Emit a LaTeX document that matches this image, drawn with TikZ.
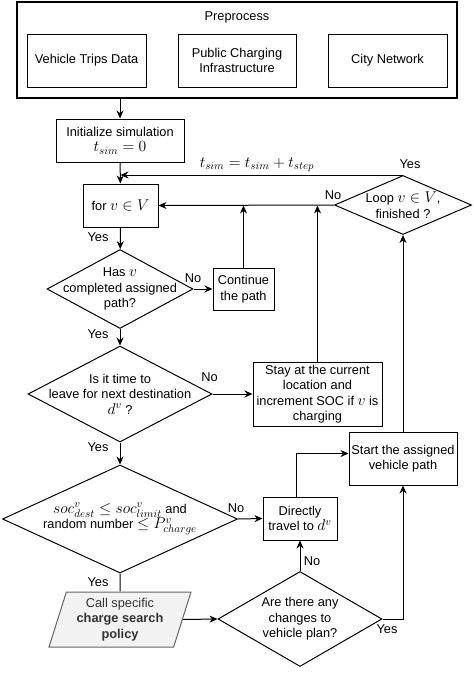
\RequirePackage{fix-cm}
\documentclass[tikz,border=0pt]{standalone}
\usepackage[no-math]{fontspec}
\setmainfont{Liberation Sans}
\usetikzlibrary{shapes.geometric,arrows.meta}
\DeclareMathSizes{12.8}{15.6}{11}{8.5}

\tikzset{
  base/.style={font=\fontsize{12.8}{15.5}\selectfont, align=center, inner sep=0pt},
  box/.style={base, draw, line width=1pt},
  decision/.style={base, draw, diamond, line width=1pt},
  arr/.style={-{Stealth[length=8pt,width=7pt]}, line width=1pt},
  line/.style={line width=1pt}
}

\begin{document}
\begin{tikzpicture}[x=1pt,y=-1pt]
  \useasboundingbox (0,0) rectangle (474,673);

  % preprocessing block
  \node[draw, line width=1.3pt, minimum width=440, minimum height=96, inner sep=0pt] (pre) at (237,50) {};
  \node[base] (pretitle) at (237,17) {Preprocess};
  \node[box, minimum width=119, minimum height=53] (trips) at (86.5,60.5) {Vehicle Trips Data};
  \node[box, minimum width=118, minimum height=53] (charging) at (237,60.5) {Public Charging\\Infrastructure};
  \node[box, minimum width=119, minimum height=53] (city) at (387.5,60.5) {City Network};

  % main loop
  \node[box, minimum width=128, minimum height=43] (init) at (120,140.5) {Initialize simulation\\$t_{sim}=0$};
  \node[box, minimum width=75, minimum height=43] (forv) at (120.5,205.5) {for $v\in V$};
  \node[decision, minimum width=137, minimum height=59, label={[base]center:{Loop $v\in V$,\\finished ?}}] (loop) at (403,205) {};
  \node[decision, minimum width=146, minimum height=79, label={[base]center:{Has $v$\\completed assigned\\path?}}] (done) at (120,289) {};
  \node[box, minimum width=61, minimum height=42] (cont) at (243.5,289) {Continue\\the path};
  \node[decision, minimum width=184, minimum height=96, label={[base]center:{Is it time to\\leave for next destination\\$d^v$ ?}}] (leave) at (120,394) {};
  \node[box, minimum width=129, minimum height=64] (stay) at (317.5,394) {Stay at the current\\location and\\increment SOC if $v$ is\\charging};
  \node[box, minimum width=108, minimum height=53] (start) at (403,458.5) {Start the assigned\\vehicle path};
  \node[decision, minimum width=235, minimum height=108, label={[base]center:{$soc^v_{dest}\le soc^v_{limit}$ and\\random number $\le P^v_{charge}$}}] (soc) at (120,519) {};
  \node[box, minimum width=74, minimum height=43] (direct) at (300,518.5) {Directly\\travel to $d^v$};
  \node[base, draw=black!60, line width=1pt, fill=black!5, text=black!80, trapezium, trapezium left angle=68, trapezium right angle=112, trapezium stretches body, minimum width=142, minimum height=55] (policy) at (120,619.5) {Call specific\\\textbf{charge search}\\\textbf{policy}};
  \node[decision, minimum width=164, minimum height=95, label={[base]center:{Are there any\\changes to\\vehicle plan?}}] (change) at (300,619) {};

  % connectors
  \draw[arr] (pre.south -| init.north) -- (init.north);
  \draw[arr] (init) -- (forv);
  \draw[arr] (loop.north) -- (loop.north -| forv.north);
  \draw[arr] (loop.west) -- (forv.east);
  \draw[arr] (forv) -- (done);
  \draw[arr] (done.east) -- (cont.west);
  \draw[arr] (cont.north) -- (cont.north |- forv.east);
  \draw[arr] (done) -- (leave);
  \draw[arr] (leave.east) -- (stay.west);
  \draw[arr] (stay.north) -- (stay.north |- forv.east);
  \draw[arr] (leave) -- (soc);
  \draw[arr] (soc.east) -- (direct.west);
  \draw[arr] ([xshift=-4pt]direct.north) |- ([yshift=5pt]start.west);
  \draw[arr] (start) -- (loop);
  \draw[line] (soc.south) -- (policy.north);
  \draw[arr] (policy.east) -- (change.west);
  \draw[arr] (change) -- (direct);
  \draw[arr] (change.east) -| (start.south);

  % branch labels
  \node[base] (step) at (257,165) {$t_{sim}=t_{sim}+t_{step}$};
  \node[base] (yesloop) at (410,164) {Yes};
  \node[base] (noloop) at (333,195) {No};
  \node[base] (yesfor) at (98,237) {Yes};
  \node[base] (nodone) at (193,278) {No};
  \node[base] (yesdone) at (98,334) {Yes};
  \node[base] (noleave) at (209.5,377) {No};
  \node[base] (yesleave) at (98,447) {Yes};
  \node[base] (nosoc) at (236,508) {No};
  \node[base] (yessoc) at (98,582) {Yes};
  \node[base] (nochange) at (312,561) {No};
  \node[base] (yeschange) at (387,629) {Yes};
\end{tikzpicture}
\end{document}
